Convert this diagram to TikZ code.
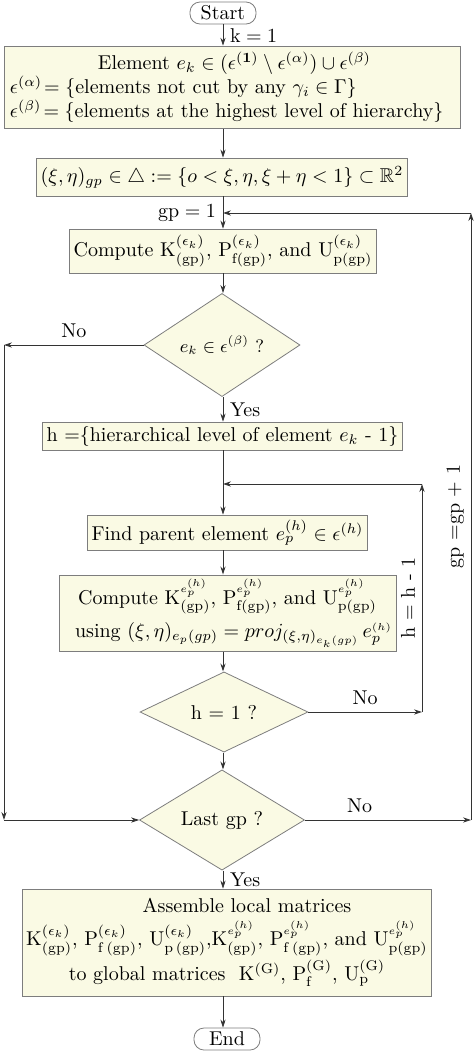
\documentclass[tikz,border=0pt]{standalone}
\usepackage{amsmath,amssymb}
\usetikzlibrary{shapes.geometric,arrows.meta}
\definecolor{boxfill}{RGB}{250,250,228}
\definecolor{boxline}{RGB}{125,125,125}
\newcommand{\epsup}{{\scriptscriptstyle e_p^{(h)}}}
\begin{document}
\begin{tikzpicture}[x=0.5pt, y=-0.5pt, font=\normalsize,
    box/.style={draw=boxline, fill=boxfill, inner sep=2pt},
    term/.style={draw=boxline, fill=white, rounded corners=5pt, minimum width=33pt, minimum height=11pt, inner sep=1pt},
    test/.style={draw=boxline, fill=boxfill, diamond, inner sep=0pt},
    flow/.style={-{Stealth[length=4pt,width=2.6pt]}, black!80},
    lbl/.style={text=black}]
    \useasboundingbox (0,0) rectangle (474,1051);
    \coordinate (spine) at (223,0);
    % --- start / end ---
    \node[term] (start) at (223,13) {Start};
    \node[term] (end) at (227,1039) {End};
    % --- kroki ---
    \node[box, text width=222pt, inner sep=3pt, minimum height=37.5pt, align=left] (elem) at (232,87.5)
      {\hspace*{44pt}Element $e_k \in (\epsilon^{(\mathbf{1})} \setminus \epsilon^{(\alpha)}) \cup \epsilon^{(\beta)}$\\
       $\epsilon^{(\alpha)}\!=\{$elements not cut by any $\gamma_i \in \Gamma\}$\\
       $\epsilon^{(\beta)}\!=\{$elements at the highest level of hierarchy$\}$};
    \node[box, minimum width=182pt, minimum height=19pt] (xi) at (222,177)
      {$(\xi,\eta)_{gp} \in \triangle := \{o < \xi, \eta, \xi+\eta < 1\} \subset \mathbb{R}^2$};
    \node[box, minimum width=139pt, minimum height=22pt] (comp1) at (223,251)
      {Compute $\mathrm{K}^{(\epsilon_k)}_{(\mathrm{gp})}$, $\mathrm{P}^{(\epsilon_k)}_{\mathrm{f(gp)}}$, and $\mathrm{U}^{(\epsilon_k)}_{\mathrm{p(gp)}}$};
    \node[test, minimum width=78pt, minimum height=38pt] (d1) at (222,345)
      {\small $e_k \in \epsilon^{(\beta)}$ ?};
    \node[box, minimum width=173.5pt, minimum height=14pt] (hbox) at (222.5,436)
      {h =$\{$hierarchical level of element $e_k$ - 1$\}$};
    \node[box, minimum width=139.5pt, minimum height=17.5pt] (find) at (227.5,532.5)
      {Find parent element $e_p^{(h)} \in \epsilon^{(h)}$};
    \node[box, minimum width=139.5pt, minimum height=30pt, align=center] (comp2) at (227.5,613)
      {Compute $\mathrm{K}^{\epsup}_{(\mathrm{gp})}$, $\mathrm{P}^{\epsup}_{\mathrm{f(gp)}}$, and $\mathrm{U}^{\epsup}_{\mathrm{p(gp)}}$\\[3pt]
       \hspace*{6pt}using $(\xi,\eta)_{e_p(gp)} = proj_{(\xi,\eta)_{e_k(gp)}}\, e_p^{\scriptscriptstyle (h)}$};
    \node[test, minimum width=84pt, minimum height=40pt] (d2) at (224,712) {h = 1 ?};
    \node[test, minimum width=82.5pt, minimum height=40pt] (d3) at (222,820) {Last gp ?};
    \node[box, minimum width=173pt, minimum height=53.5pt, align=center] (asm) at (227,942.5)
      {\hspace*{20pt}Assemble local matrices\\[3pt]
       $\mathrm{K}^{(\epsilon_k)}_{(\mathrm{gp})}$, $\mathrm{P}^{(\epsilon_k)}_{\mathrm{f\,(gp)}}$, $\mathrm{U}^{(\epsilon_k)}_{\mathrm{p\,(gp)}}$,$\mathrm{K}^{\epsup}_{(\mathrm{gp})}$, $\mathrm{P}^{\epsup}_{\mathrm{f\,(gp)}}$, and $\mathrm{U}^{\epsup}_{\mathrm{p(gp)}}$\\[1pt]
       to global matrices\ \ $\mathrm{K}^{(\mathrm{G})}$, $\mathrm{P}_{\mathrm{f}}^{(\mathrm{G})}$, $\mathrm{U}_{\mathrm{p}}^{(\mathrm{G})}$};
    % --- punkty petli ---
    \coordinate (noL) at (4,345);
    \coordinate (noLb) at (4,820);
    \coordinate (hA) at (422,712);
    \coordinate (hB) at (422,484);
    \coordinate (gpA) at (471,820);
    \coordinate (gpB) at (471,213);
    % --- strzalki glowne ---
    \draw[flow] (start.south -| spine) -- node[lbl, right]{$\mathrm{k} = 1$} (elem.north -| spine);
    \draw[flow] (elem.south -| spine) -- (xi.north -| spine);
    \draw[flow] (xi.south -| spine) -- node[lbl, left]{$\mathrm{gp} = 1$} (comp1.north -| spine);
    \draw[flow] (comp1.south -| spine) -- (d1.north -| spine);
    \draw[flow] (d1.south -| spine) -- node[lbl, right]{Yes} (hbox.north -| spine);
    \draw[flow] (hbox.south -| spine) -- (find.north -| spine);
    \draw[flow] (find.south -| spine) -- (comp2.north -| spine);
    \draw[flow] (comp2.south -| spine) -- (d2.north -| spine);
    \draw[flow] (d2.south -| spine) -- (d3.north -| spine);
    \draw[flow] (d3.south -| spine) -- node[lbl, right]{Yes} (asm.north -| spine);
    \draw[flow] (asm.south -| spine) -- (end.north -| spine);
    % --- petle ---
    \draw[flow] (d1.west) -- node[lbl, above]{No} (noL);
    \draw[flow] (noL) -- (noLb);
    \draw[flow] (noLb) -- (d3.west);
    \draw[flow] (d2.east) -- node[lbl, above]{No} (hA);
    \draw[flow] (hA) -- node[lbl, above, sloped]{h = h - 1} (hB);
    \draw[flow] (hB) -- (hB -| spine);
    \draw[flow] (d3.east) -- node[lbl, above, pos=0.33]{No} (gpA);
    \draw[flow] (gpA) -- node[lbl, above, sloped]{gp =gp + 1} (gpB);
    \draw[flow] (gpB) -- (gpB -| spine);
  \end{tikzpicture}
\end{document}
